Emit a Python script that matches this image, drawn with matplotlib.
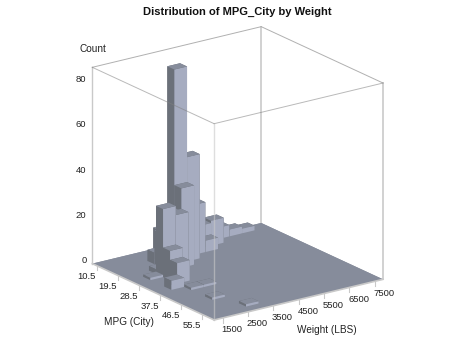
import matplotlib
matplotlib.use("Agg")
import matplotlib.pyplot as plt
import numpy as np

plt.rcParams['font.family'] = ['Liberation Sans', 'DejaVu Sans']

mpg_bins = [10.5, 13.5, 16.5, 19.5, 22.5, 25.5, 28.5, 31.5, 34.5, 37.5, 40.5, 43.5, 46.5, 49.5, 52.5, 55.5]
weight_bins = [1500, 2000, 2500, 3000, 3500, 4000, 4500, 5000, 5500, 6000, 6500, 7000, 7500]

# one row per mpg bin, one column per weight bin
counts = [
    [0, 0, 0, 0, 0, 0, 0, 0, 0, 5, 3, 2, 0],
    [0, 0, 0, 0, 12, 6, 6, 10, 11, 0, 0, 0, 0],
    [0, 0, 0, 5, 20, 28, 22, 5, 0, 0, 0, 0, 0],
    [0, 0, 0, 15, 86, 46, 0, 0, 0, 0, 0, 0, 0],
    [0, 0, 2, 25, 35, 0, 0, 0, 0, 0, 0, 0, 0],
    [0, 1, 30, 26, 0, 0, 0, 0, 0, 0, 0, 0, 0],
    [0, 0, 13, 0, 0, 0, 0, 0, 0, 0, 0, 0, 0],
    [0, 0, 9, 0, 0, 0, 0, 0, 0, 0, 0, 0, 0],
    [0, 4, 0, 0, 0, 0, 0, 0, 0, 0, 0, 0, 0],
    [0, 0, 1, 1, 0, 0, 0, 0, 0, 0, 0, 0, 0],
    [0, 0, 0, 0, 0, 0, 0, 0, 0, 0, 0, 0, 0],
    [0, 0, 0, 0, 0, 0, 0, 0, 0, 0, 0, 0, 0],
    [0, 0, 1, 0, 0, 0, 0, 0, 0, 0, 0, 0, 0],
    [0, 0, 0, 0, 0, 0, 0, 0, 0, 0, 0, 0, 0],
    [0, 0, 0, 0, 0, 0, 0, 0, 0, 0, 0, 0, 0],
    [0, 0, 0, 1, 0, 0, 0, 0, 0, 0, 0, 0, 0],
]
count_ticks = [0, 20, 40, 60, 80]
mpg_ticks = [10.5, 19.5, 28.5, 37.5, 46.5, 55.5]
weight_ticks = [1500, 2500, 3500, 4500, 5500, 6500, 7500]

mpg_width = 3
weight_width = 500
mmin, mmax = 8.5, 60.5
wmin, wmax = 1170, 7830
zmax = 86.6

LIGHT = '#a6acc0'
DARK = '#6b7079'
TOP = '#868c9b'
GRID = '#c9c9c9'
THIN = '#b0b0b0'

fig = plt.figure(figsize=(4.74, 3.55), dpi=100)
ax = fig.add_axes([33 / 474, 4 / 355, 400 / 474, 346 / 355], projection='3d', proj_type='ortho')
ax.set_box_aspect((1, 1, 1), zoom=1.012)
ax.view_init(elev=19.5, azim=-35.8)
ax.set_xlim(mmin, mmax)
ax.set_ylim(wmin, wmax)
ax.set_zlim(0, zmax)
ax.set_axis_off()
ax.computed_zorder = False

# bottom, top, -weight, +weight, -mpg, +mpg
face_colors = [TOP, TOP, DARK, DARK, DARK, LIGHT]

# back walls
ax.plot([mmin, mmin], [wmin, wmin], [0, zmax], color=GRID, lw=1, zorder=1)
ax.plot([mmin, mmin], [wmax, wmax], [0, zmax], color=GRID, lw=1.2, zorder=1)
ax.plot([mmax, mmax], [wmax, wmax], [0, zmax], color=GRID, lw=1.2, zorder=1)
ax.plot([mmin, mmin], [wmin, wmax], [zmax, zmax], color=THIN, lw=0.7, zorder=1)
ax.plot([mmin, mmax], [wmax, wmax], [zmax, zmax], color=THIN, lw=0.7, zorder=1)

# floor
ax.bar3d(mmin, wmin, 0, mmax - mmin, wmax - wmin, 0, color=TOP, shade=False, zorder=2)

# far bars first, order them by hand
z = 3
for j in range(len(weight_bins) - 1, -1, -1):
    for i in range(len(mpg_bins)):
        c = counts[i][j]
        if c == 0:
            continue
        ax.bar3d(mpg_bins[i] - mpg_width / 2, weight_bins[j] - weight_width / 2, 0,
                 mpg_width, weight_width, c, color=face_colors, shade=False, zorder=z)
        z += 1

# front box lines show faintly through the bars
ax.plot([mmin, mmax], [wmin, wmin], [zmax, zmax], color='#808080', alpha=0.55, lw=0.7, zorder=z)
ax.plot([mmax, mmax], [wmin, wmax], [zmax, zmax], color='#808080', alpha=0.55, lw=0.7, zorder=z)
ax.plot([mmax, mmax], [wmin, wmin], [0, zmax], color=GRID, alpha=0.6, lw=1, zorder=z)

# axis lines, ticks and labels
ax.plot([mmin, mmax], [wmin, wmin], [0, 0], color=GRID, lw=1.2, zorder=z)
ax.plot([mmax, mmax], [wmin, wmax], [0, 0], color=GRID, lw=1.2, zorder=z)
for m in mpg_ticks:
    ax.plot([m, m], [wmin, wmin], [0, -2], color=GRID, lw=0.8, zorder=z)
    ax.text(m, wmin - 400, -3.8, str(m), fontsize=6.8, ha='center', va='center', color='#222222', zorder=z)
for w in weight_ticks:
    ax.plot([mmax, mmax], [w, w], [0, -2], color=GRID, lw=0.8, zorder=z)
    ax.text(mmax + 4, w, -3.3, str(w), fontsize=6.8, ha='center', va='center', color='#222222', zorder=z)
for c in count_ticks:
    ax.text(mmin, wmin - 230, c + 1.8, str(c), fontsize=6.8, ha='right', va='center', color='#222222', zorder=z)

fig.text(237 / 474, 1 - 12 / 355, 'Distribution of MPG_City by Weight', fontsize=8, fontweight='bold',
         ha='center', va='center', color='#111111')
fig.text(93 / 474, 1 - 49 / 355, 'Count', fontsize=7.2, ha='center', va='center', color='#222222')
fig.text(129 / 474, 1 - 322 / 355, 'MPG (City)', fontsize=7.2, ha='center', va='center', color='#222222')
fig.text(327 / 474, 1 - 330 / 355, 'Weight (LBS)', fontsize=7.2, ha='center', va='center', color='#222222')

fig.savefig('out.png', dpi=100)
